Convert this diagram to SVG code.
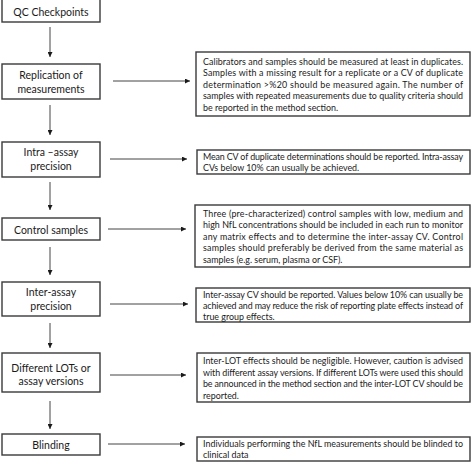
<svg xmlns="http://www.w3.org/2000/svg" width="474" height="462" viewBox="0 0 474 462">
<style>
.box{fill:#fff;stroke:#3a3a3a;stroke-width:1.4}
.lt{font-family:Lato,"Liberation Sans",sans-serif;font-size:10.5px;fill:#1a1a1a;text-anchor:middle}
.rt{font-family:Lato,"Liberation Sans",sans-serif;font-size:8.9px;fill:#1a1a1a}
.c{stroke:#444;stroke-width:1;fill:none;marker-end:url(#ah)}
</style>
<defs>
<marker id="ah" viewBox="0 0 10 10" refX="10" refY="5" markerWidth="5" markerHeight="5" markerUnits="userSpaceOnUse" orient="auto">
<path d="M0,0 L10,5 L0,10 z" fill="#1a1a1a"/>
</marker>
</defs>
<rect width="474" height="462" fill="#fff"/>
<g id="connectors">
<line class="c" x1="50" y1="27" x2="50" y2="57"/>
<line class="c" x1="113" y1="81" x2="190" y2="81"/>
<line class="c" x1="50" y1="105" x2="50" y2="135"/>
<line class="c" x1="110" y1="159" x2="187" y2="159"/>
<line class="c" x1="50" y1="182" x2="50" y2="210"/>
<line class="c" x1="108" y1="229" x2="186" y2="229"/>
<line class="c" x1="50" y1="247" x2="50" y2="275"/>
<line class="c" x1="110" y1="304" x2="188" y2="304"/>
<line class="c" x1="50" y1="323" x2="50" y2="348"/>
<line class="c" x1="110" y1="375" x2="186" y2="375"/>
<line class="c" x1="50" y1="401" x2="50" y2="429"/>
<line class="c" x1="108" y1="444" x2="185" y2="444"/>
</g>
<g id="qc">
<rect class="box" x="2" y="-1" width="98" height="23"/>
<text class="lt" x="51" y="15.5">QC Checkpoints</text>
</g>
<g id="replication">
<rect class="box" x="2" y="64" width="98" height="35"/>
<text class="lt" x="51" y="79">Replication of</text>
<text class="lt" x="51" y="92.5">measurements</text>
</g>
<g id="replication-note">
<rect class="box" x="196" y="52" width="274" height="64"/>
<text class="rt" x="203" y="64.5" textLength="260" lengthAdjust="spacing">Calibrators and samples should be measured at least in duplicates.</text>
<text class="rt" x="203" y="76" textLength="260" lengthAdjust="spacing">Samples with a missing result for a replicate or a CV of duplicate</text>
<text class="rt" x="203" y="87.5" textLength="260" lengthAdjust="spacing">determination &gt;%20 should be measured again. The number of</text>
<text class="rt" x="203" y="99" textLength="260" lengthAdjust="spacing">samples with repeated measurements due to quality criteria should</text>
<text class="rt" x="203" y="110.5">be reported in the method section.</text>
</g>
<g id="intra">
<rect class="box" x="2" y="142" width="98" height="35"/>
<text class="lt" x="51" y="156">Intra –assay</text>
<text class="lt" x="51" y="170">precision</text>
</g>
<g id="intra-note">
<rect class="box" x="197" y="150" width="273" height="24"/>
<text class="rt" x="203" y="159.5" textLength="260" lengthAdjust="spacing">Mean CV of duplicate determinations should be reported. Intra-assay</text>
<text class="rt" x="203" y="170.5">CVs below 10% can usually be achieved.</text>
</g>
<g id="control">
<rect class="box" x="2" y="218" width="98" height="22"/>
<text class="lt" x="51" y="233.5">Control samples</text>
</g>
<g id="control-note">
<rect class="box" x="195" y="205" width="275" height="62"/>
<text class="rt" x="203" y="216.5" textLength="260" lengthAdjust="spacing">Three (pre-characterized) control samples with low, medium and</text>
<text class="rt" x="203" y="228" textLength="260" lengthAdjust="spacing">high NfL concentrations should be included in each run to monitor</text>
<text class="rt" x="203" y="239.5" textLength="260" lengthAdjust="spacing">any matrix effects and to determine the inter-assay CV. Control</text>
<text class="rt" x="203" y="251" textLength="260" lengthAdjust="spacing">samples should preferably be derived from the same material as</text>
<text class="rt" x="203" y="262.5">samples (e.g. serum, plasma or CSF).</text>
</g>
<g id="inter">
<rect class="box" x="2" y="282" width="98" height="34"/>
<text class="lt" x="51" y="296">Inter-assay</text>
<text class="lt" x="51" y="309.5">precision</text>
</g>
<g id="inter-note">
<rect class="box" x="196" y="288" width="274" height="34"/>
<text class="rt" x="203" y="297.5" textLength="260" lengthAdjust="spacing">Inter-assay CV should be reported. Values below 10% can usually be</text>
<text class="rt" x="203" y="308.5" textLength="260" lengthAdjust="spacing">achieved and may reduce the risk of reporting plate effects instead of</text>
<text class="rt" x="203" y="319.5">true group effects.</text>
</g>
<g id="lots">
<rect class="box" x="2" y="353" width="98" height="39"/>
<text class="lt" x="51" y="371.5">Different LOTs or</text>
<text class="lt" x="51" y="385">assay versions</text>
</g>
<g id="lots-note">
<rect class="box" x="197" y="353" width="273" height="49"/>
<text class="rt" x="203" y="364" textLength="260" lengthAdjust="spacing">Inter-LOT effects should be negligible. However, caution is advised</text>
<text class="rt" x="203" y="375.5" textLength="260" lengthAdjust="spacing">with different assay versions. If different LOTs were used this should</text>
<text class="rt" x="203" y="387" textLength="260" lengthAdjust="spacing">be announced in the method section and the inter-LOT CV should be</text>
<text class="rt" x="203" y="398.5">reported.</text>
</g>
<g id="blinding">
<rect class="box" x="2" y="434" width="98" height="21"/>
<text class="lt" x="51" y="448.5">Blinding</text>
</g>
<g id="blinding-note">
<rect class="box" x="197" y="437" width="273" height="24"/>
<text class="rt" x="203" y="446.5" textLength="260" lengthAdjust="spacing">Individuals performing the NfL measurements should be blinded to</text>
<text class="rt" x="203" y="457.5">clinical data</text>
</g>
</svg>
